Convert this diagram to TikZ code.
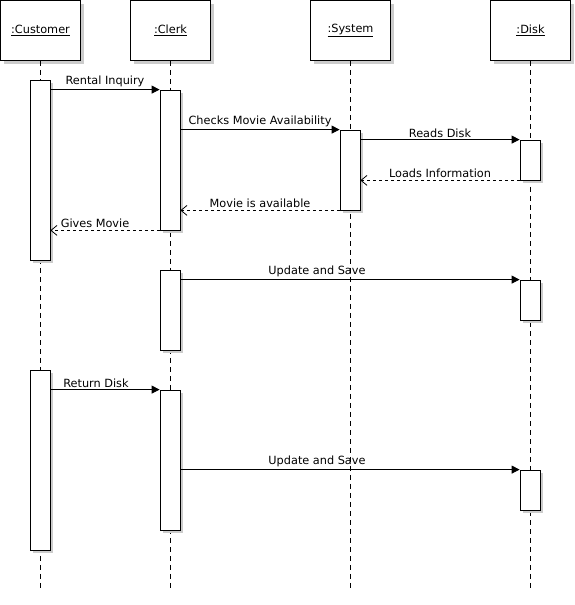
\documentclass[tikz,border=0pt]{standalone}
\usepackage{fontspec}
\setmainfont{DejaVu Sans}
\usetikzlibrary{arrows.meta,shadows}

\tikzset{
    obj/.style={draw, fill=white, minimum width=80pt, minimum height=60pt, inner sep=0pt,
        font=\fontsize{11.3}{13}\selectfont,
        drop shadow={shadow xshift=3pt, shadow yshift=-3pt, fill=black!20, opacity=1}},
    act/.style={draw, fill=white, minimum width=20pt, inner sep=0pt,
        drop shadow={shadow xshift=3pt, shadow yshift=-3pt, fill=black!20, opacity=1}},
    life/.style={dash pattern=on 5pt off 4pt},
    call/.style={-{Triangle[length=8pt,width=8pt]}},
    reply/.style={dashed, -{Straight Barb[length=6pt,width=10pt]}},
    msg/.style={above, inner sep=2pt, font=\fontsize{11.3}{13}\selectfont}
}

\begin{document}
\begin{tikzpicture}[x=1pt, y=-1pt, line width=0.8pt]
    \useasboundingbox (0,0) rectangle (575,605);

    \coordinate (End) at (0,590);

    % objects
    \node[obj] (Cu) at (40.5,30.5) {\underline{:Customer}};
    \node[obj] (Cl) at (170.5,30.5) {\underline{:Clerk}};
    \node[obj] (Sy) at (350.5,30.5) {\underline{:System}};
    \node[obj] (Di) at (530.5,30.5) {\underline{:Disk}};

    % lifelines
    \draw[life] (Cu.south) -- (Cu.south |- End);
    \draw[life] (Cl.south) -- (Cl.south |- End);
    \draw[life] (Sy.south) -- (Sy.south |- End);
    \draw[life] (Di.south) -- (Di.south |- End);

    % activations
    \node[act, minimum height=180pt] (cu1) at (40,170) {};
    \node[act, minimum height=140pt] (cl1) at (170,160) {};
    \node[act, minimum height=80pt] (sy1) at (350,170) {};
    \node[act, minimum height=40pt] (di1) at (530,160) {};

    \node[act, minimum height=80pt] (cl2) at (170,310) {};
    \node[act, minimum height=40pt] (di2) at (530,300) {};

    \node[act, minimum height=180pt] (cu2) at (40,460) {};
    \node[act, minimum height=140pt] (cl3) at (170,460) {};
    \node[act, minimum height=40pt] (di3) at (530,490) {};

    % messages
    \draw[call] (cl1.north west -| cu1.east) -- node[msg] {Rental Inquiry} (cl1.north west);
    \draw[call] (sy1.north west -| cl1.east) -- node[msg] {Checks Movie Availability} (sy1.north west);
    \draw[call] (di1.north west -| sy1.east) -- node[msg] {Reads Disk} (di1.north west);
    \draw[reply] (di1.south west) -- node[msg] {Loads Information} (di1.south west -| sy1.east);
    \draw[reply] (sy1.south west) -- node[msg] {Movie is available} (sy1.south west -| cl1.east);
    \draw[reply] (cl1.south west) -- node[msg, xshift=-10pt] {Gives Movie} (cl1.south west -| cu1.east);

    \draw[call] (di2.north west -| cl2.east) -- node[msg, xshift=-33pt] {Update and Save} (di2.north west);

    \draw[call] (cl3.north west -| cu2.east) -- node[msg, xshift=-9pt] {Return Disk} (cl3.north west);
    \draw[call] (di3.north west -| cl3.east) -- node[msg, xshift=-33pt] {Update and Save} (di3.north west);
\end{tikzpicture}
\end{document}
